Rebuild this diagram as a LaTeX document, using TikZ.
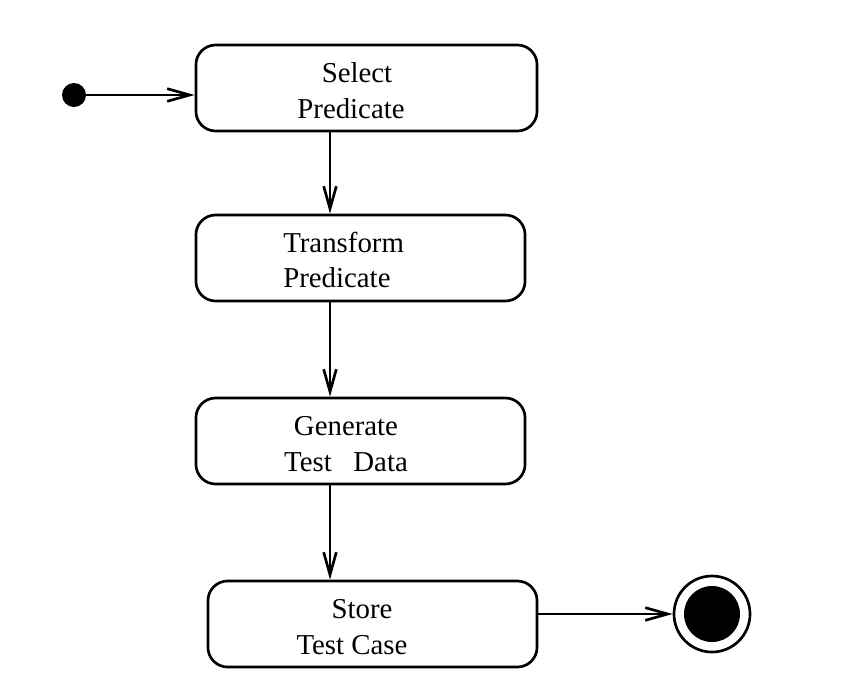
\documentclass[tikz,border=0pt]{standalone}
\usepackage{fontspec}
\setmainfont{Liberation Serif}
\usetikzlibrary{arrows.meta}
\tikzset{
    activity/.style={draw, rounded corners=14pt, line width=1.9pt, minimum height=2.15cm, inner sep=0pt},
    caption/.style={font=\fontsize{20.5}{25.5}\selectfont, inner sep=0pt},
    flow/.style={line width=1.9pt, -{Straight Barb[length=16pt, width=9pt, line width=1.9pt]}}
}
\begin{document}
\begin{tikzpicture}[x=0.025cm, y=-0.025cm]
    \useasboundingbox (0,0) rectangle (845,684);
        % Start and end states
            \node[circle, fill, minimum size=0.6cm, inner sep=0pt] (init) at (74, 95) {};
            \node[circle, draw, line width=1.9pt, minimum size=1.9cm, inner sep=0pt] (fin) at (712, 614) {};
            \node[circle, fill, minimum size=1.4cm, inner sep=0pt] (fin-in) at (fin) {};
        % Activities
            \node[activity, minimum width=8.525cm] (sel) at (366.5, 88)  {};
            \node[activity, minimum width=8.225cm] (tra) at (360.5, 258) {};
            \node[activity, minimum width=8.225cm] (gen) at (360.5, 441) {};
            \node[activity, minimum width=8.225cm] (sto) at (372.5, 624) {};
        % Texts
            \node[caption, align=center] (sel-t) at (351, 91)  {\hspace{0.3cm}Select\\Predicate};
            \node[caption, align=left, anchor=west] (tra-t) at (283, 260) {Transform\\Predicate};
            \node[caption, align=center] (gen-t) at (346, 444) {Generate\\Test\ \ \ Data};
            \node[caption, align=center] (sto-t) at (352, 627) {\hspace{0.5cm}Store\\Test Case};
        % Transitions
            \coordinate (ax) at (330, 0);
            \draw[flow] (init) -- (init -| sel.west);
            \draw[flow] (sel.south -| ax) -- (tra.north -| ax);
            \draw[flow] (tra.south -| ax) -- (gen.north -| ax);
            \draw[flow] (gen.south -| ax) -- (sto.north -| ax);
            \draw[flow] (sto.east |- fin) -- (fin);
\end{tikzpicture}
\end{document}
